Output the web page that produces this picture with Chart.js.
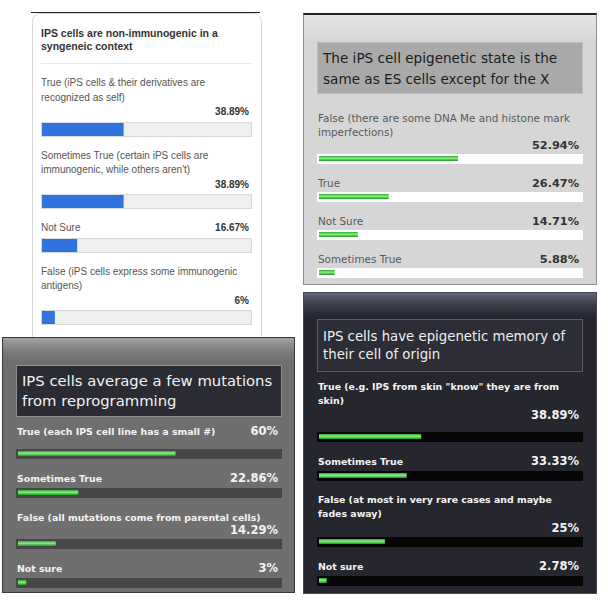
<!DOCTYPE html>
<html><head><meta charset="utf-8">
<script src="https://cdn.jsdelivr.net/npm/chart.js@4.4.1/dist/chart.umd.min.js"></script>
<style>
html,body{margin:0;padding:0;background:#fff;width:608px;height:606px;overflow:hidden;position:relative}
.panel{position:absolute;box-sizing:border-box}
.item .head{display:flex;flex-wrap:wrap;align-items:baseline}
.item .lab{min-width:0;flex:0 1 auto}
.item .pct{margin-left:auto;font-weight:bold;white-space:nowrap}
.track{box-sizing:border-box}
.track canvas{display:block}
/* panel 1 */
#topline{position:absolute;left:31px;top:12px;width:229px;height:1px;background:#222}
.p1{left:32px;top:13px;width:230px;height:345px;border:1px solid #dadada;border-radius:8px;background:#fff;padding:12.5px 9px 0 8px;font-family:"Liberation Sans",Arial,sans-serif}
.p1 .title{font-size:10.5px;font-weight:bold;line-height:13px;color:#333;margin-bottom:10px}
.p1 .sep{height:1px;background:#e8e8e8;margin-bottom:12.5px}
.p1 .item{margin-bottom:12px}
.p1 .head{font-size:10px;line-height:14.5px;color:#555}
.p1 .lab{max-width:205px}
.p1 .pct{color:#333;margin-right:3px}
.p1 .track{margin-top:2px;width:211px;height:15px;border:1px solid #d8d8d8;background:#efefef}
/* common for 2-4 */
.v{font-family:"DejaVu Sans",Verdana,sans-serif}
.tbox{box-sizing:border-box;margin-left:13px;width:266px}
.v .track{margin-left:13px;width:266px;height:10px}
.v .head{margin-left:14px;width:265px}
.v .pct{margin-right:4px}
/* panel 2 */
.p2{left:303px;top:13px;width:294px;height:272px;border:1px solid #8c8c8c;border-top:2px solid #222;background:linear-gradient(#e6e6e6 0px,#d6d6d6 26px,#d6d6d6 100%)}
.p2 .tbox{margin-top:27px;height:52px;background:#a9a9a9;border:1px solid #bcbcbc;padding:4.5px 5px 0 5px;font-size:13.6px;line-height:21px;color:#1c1c1c}
.p2 .items{padding-top:17px}
.p2 .item{margin-bottom:12px}
.p2 .head{font-size:10.4px;line-height:14px;color:#585858}
.p2 .lab{max-width:265px}
.p2 .pct{font-size:11.3px;color:#333}
.p2 .track{margin-top:1px;background:#fff}
/* panel 3 */
.p3{left:2px;top:337px;width:293px;height:256px;border:1px solid #3a3a3a;background:linear-gradient(#a2a2a2 0px,#7a7a7a 14px,#6f6f6f 24px,#6f6f6f 100%)}
.p3 .tbox{margin-top:27px;height:52px;background:#2b2b33;border:1px solid #8e8e8e;padding:5px 5px 0 5px;font-size:14.8px;line-height:20px;color:#f2f2f2}
.p3 .items{padding-top:7.5px}
.p3 .item{margin-bottom:13px}
.p3 .head{font-size:9.4px;font-weight:bold;line-height:13px;color:#f4f4f4}
.p3 .lab{max-width:250px}
.p3 .pct{font-size:11.5px;color:#f4f4f4}
.p3 .track{margin-top:2.5px;background:#474747}
.p3 .item:first-child .track{margin-top:11.5px}
/* panel 4 */
.p4{left:303px;top:292px;width:294px;height:302px;border:1px solid #4a4a4a;background:linear-gradient(#62667a 0px,#3a3c48 12px,#25262e 24px,#25262e 100%)}
.p4 .tbox{margin-top:26px;height:53px;background:#2c2d36;border:1px solid #5c5d68;padding:8px 5px 0 5px;font-size:13.3px;line-height:18px;color:#eeeeee}
.p4 .items{padding-top:8px}
.p4 .item{margin-bottom:12px}
.p4 .head{font-size:9.4px;font-weight:bold;line-height:14px;color:#f4f4f4}
.p4 .lab{max-width:250px}
.p4 .pct{font-size:11.5px;color:#f4f4f4}
.p4 .track{margin-top:2px;background:#060606}
.p4 .item:first-child .track{margin-top:10px}
</style></head><body>
<div id="topline"></div>
<script>
// ---- data ----
const p1Title = "IPS cells are non-immunogenic in a syngeneic context";
const p1Labels = ["True (iPS cells & their derivatives are recognized as self)", "Sometimes True (certain iPS cells are immunogenic, while others aren't)", "Not Sure", "False (iPS cells express some immunogenic antigens)"];
const p1Values = [38.89, 38.89, 16.67, 6];

const p2Title = "The iPS cell epigenetic state is the same as ES cells except for the X";
const p2Labels = ["False (there are some DNA Me and histone mark imperfections)", "True", "Not Sure", "Sometimes True"];
const p2Values = [52.94, 26.47, 14.71, 5.88];

const p3Title = "IPS cells average a few mutations from reprogramming";
const p3Labels = ["True (each IPS cell line has a small #)", "Sometimes True", "False (all mutations come from parental cells)", "Not sure"];
const p3Values = [60, 22.86, 14.29, 3];

const p4Title = "IPS cells have epigenetic memory of their cell of origin";
const p4Labels = ["True (e.g. IPS from skin \"know\" they are from skin)", "Sometimes True", "False (at most in very rare cases and maybe fades away)", "Not sure"];
const p4Values = [38.89, 33.33, 25, 2.78];

// ---- rendering ----
function greenFill(ctx) {
  const chart = ctx.chart, a = chart.chartArea;
  if (!a) return '#2fb52f';
  const g = chart.ctx.createLinearGradient(0, a.top, 0, a.bottom);
  g.addColorStop(0, '#2aae2a');
  g.addColorStop(0.45, '#8aee8a');
  g.addColorStop(1, '#1c9a1c');
  return g;
}

function makeBar(canvas, value, kind) {
  new Chart(canvas, {
    type: 'bar',
    data: { labels: [''], datasets: [{ data: [value], backgroundColor: kind === 'blue' ? '#2f74dc' : greenFill, borderWidth: 0, barPercentage: 1, categoryPercentage: 1 }] },
    options: {
      indexAxis: 'y', responsive: false, animation: false, devicePixelRatio: 1,
      layout: { padding: kind === 'blue' ? 0 : { left: 2, right: 2, top: 2, bottom: 3 } },
      plugins: { legend: { display: false }, tooltip: { enabled: false } },
      scales: { x: { display: false, min: 0, max: 100 }, y: { display: false } }
    }
  });
}

function buildPanel(cls, title, labels, values, kind) {
  const p = document.createElement('div');
  p.className = 'panel ' + cls + (kind === 'blue' ? '' : ' v');
  document.body.appendChild(p);
  const t = document.createElement('div');
  t.className = kind === 'blue' ? 'title' : 'tbox';
  t.textContent = title;
  p.appendChild(t);
  if (kind === 'blue') { const s = document.createElement('div'); s.className = 'sep'; p.appendChild(s); }
  const items = document.createElement('div');
  items.className = 'items';
  p.appendChild(items);
  labels.forEach((lab, i) => {
    const it = document.createElement('div'); it.className = 'item';
    const h = document.createElement('div'); h.className = 'head';
    const l = document.createElement('span'); l.className = 'lab'; l.textContent = lab;
    const pc = document.createElement('span'); pc.className = 'pct'; pc.textContent = values[i] + '%';
    h.appendChild(l); h.appendChild(pc); it.appendChild(h);
    const tr = document.createElement('div'); tr.className = 'track';
    const c = document.createElement('canvas');
    if (kind === 'blue') { c.width = 209; c.height = 13; } else { c.width = 266; c.height = 10; }
    tr.appendChild(c); it.appendChild(tr); items.appendChild(it);
    makeBar(c, values[i], kind);
  });
}

buildPanel('p1', p1Title, p1Labels, p1Values, 'blue');
buildPanel('p2', p2Title, p2Labels, p2Values, 'green');
buildPanel('p4', p4Title, p4Labels, p4Values, 'green');
buildPanel('p3', p3Title, p3Labels, p3Values, 'green');
</script>
</body></html>
